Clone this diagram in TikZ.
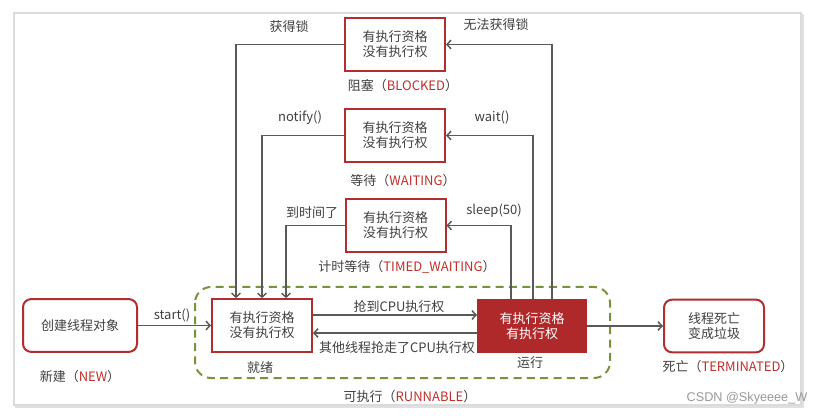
\documentclass[tikz,border=0pt]{standalone}
\usepackage{fontspec}
\setmainfont{Noto Sans CJK SC}
\newfontfamily\wmfont{Liberation Sans}
\usetikzlibrary{arrows.meta,calc}
\definecolor{bred}{HTML}{B22D2D}
\definecolor{rfill}{HTML}{B0292A}
\definecolor{tred}{HTML}{C0302B}
\definecolor{lgray}{HTML}{595959}
\definecolor{tgray}{HTML}{404040}
\definecolor{dgreen}{HTML}{77933C}
\tikzset{
  every node/.style={text=tgray, font=\fontsize{9.75}{11.25}\selectfont, inner sep=0pt},
  statebox/.style={draw=bred, line width=1.5pt, fill=white, align=center, minimum width=75pt, minimum height=39.5pt},
  roundbox/.style={statebox, rounded corners=6pt},
  arr/.style={draw=lgray, line width=1.1pt, -{Straight Barb[length=3pt,width=6.5pt,line width=1.1pt]}},
  plain/.style={draw=lgray, line width=1.1pt},
  lbl/.style={anchor=center}
}
\begin{document}
\begin{tikzpicture}[x=0.75pt,y=-0.75pt]
\useasboundingbox (0,0) rectangle (827,416);
% frame
\draw[black!12, line width=2.2pt] (16,15) rectangle (803,407);
\fill[white] (14,13) rectangle (801,405);
\draw[black!14, line width=0.9pt] (14,13) rectangle (801,405);

% runnable region
\draw[dgreen, line width=1.5pt, dash pattern=on 6pt off 4pt, rounded corners=12pt] (195,287) rectangle (610,378);

% states
\node[statebox] (blocked) at (395,44.5) {有执行资格\\没有执行权};
\node[statebox] (waiting) at (395,135.5) {有执行资格\\没有执行权};
\node[statebox] (timed) at (395.5,225.5) {有执行资格\\没有执行权};
\node[statebox] (ready) at (262,325.5) {有执行资格\\没有执行权};
\node[statebox, fill=rfill, draw=rfill, minimum width=81pt, text=white] (running) at (532,326) {有执行资格\\有执行权};
\node[roundbox, minimum width=85.5pt] (new) at (80,325.5) {创建线程对象};
\node[roundbox] (term) at (714,326) {线程死亡\\变成垃圾};

% state labels
\node[lbl] (lblocked) at (403,86) {阻塞（\textcolor{tred}{BLOCKED}）};
\node[lbl] (lwaiting) at (403,181) {等待（\textcolor{tred}{WAITING}）};
\node[lbl] (ltimed) at (407,267) {计时等待（\textcolor{tred}{TIMED\_WAITING}）};
\node[lbl] (lready) at (260,368) {就绪};
\node[lbl] (lrunning) at (530,363) {运行};
\node[lbl] (lrunnable) at (410,397) {可执行（\textcolor{tred}{RUNNABLE}）};
\node[lbl] (lnew) at (80,377) {新建（\textcolor{tred}{NEW}）};
\node[lbl] (lterm) at (728,367) {死亡（\textcolor{tred}{TERMINATED}）};

% connectors
\draw[arr] (blocked.west) -| ($(ready.north)+(-26,0)$);
\draw[arr] (waiting.west) -| (ready.north);
\draw[arr] (timed.west) -| ($(ready.north)+(24,0)$);
\draw[arr] ($(running.north)+(-21,0)$) |- (timed.east);
\draw[arr] ($(running.north)+(1,0)$) |- (waiting.east);
\draw[arr] ($(running.north)+(20,0)$) |- (blocked.east);
\draw[arr] ($(ready.east)+(0,-10.5)$) coordinate (g1) -- (g1 -| running.west);
\draw[arr] ($(running.west)+(0,7)$) coordinate (g2) -- (g2 -| ready.east);
\draw[arr] (new.east) -- (new.east -| ready.west);
\draw[arr] (running.east) -- (term.west);

% connector labels
\node[lbl] (t1) at (289,27) {获得锁};
\node[lbl] (t2) at (496,25) {无法获得锁};
\node[lbl] (t3) at (300,118) {notify()};
\node[lbl] (t4) at (492,117) {wait()};
\node[lbl] (t5) at (312,213) {到时间了};
\node[lbl] (t6) at (494,211) {sleep(50)};
\node[lbl] (t7) at (399,307) {抢到CPU执行权};
\node[lbl] (t8) at (397,348) {其他线程抢走了CPU执行权};
\node[lbl] (t9) at (172,315) {start()};

% watermark
\node[lbl, text=black!40, font=\wmfont\fontsize{9.5}{11}\selectfont] (wm) at (747,398) {CSDN @Skyeeee\_W};
\end{tikzpicture}
\end{document}
